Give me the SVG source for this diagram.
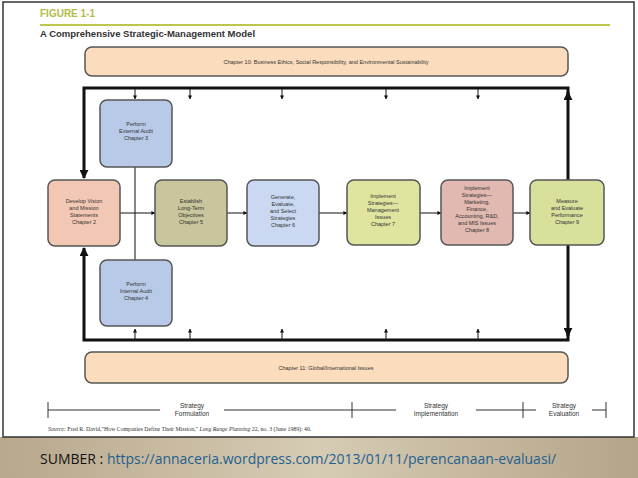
<svg xmlns="http://www.w3.org/2000/svg" width="638" height="478" viewBox="0 0 638 478">
<defs>
<style>
text{font-family:"Liberation Sans",Arial,sans-serif;fill:#333}
.b{stroke:#555;stroke-width:1.5}
.t{font-size:5.5px;text-anchor:middle}
.c{stroke:#111;fill:none}
</style>
<marker id="a" viewBox="0 0 10 10" refX="9" refY="5" markerWidth="4" markerHeight="4" orient="auto"><path d="M0,0L10,5L0,10z" fill="#111"/></marker>
<marker id="s" viewBox="0 0 10 10" refX="9" refY="5" markerWidth="3" markerHeight="3" orient="auto"><path d="M0,0L10,5L0,10z" fill="#111"/></marker>
<linearGradient id="bg" x1="0" x2="1"><stop offset="0" stop-color="#b8a88c"/><stop offset="0.5" stop-color="#d6cbb4"/><stop offset="1" stop-color="#b5a588"/></linearGradient>
</defs>
<rect width="638" height="478" fill="#fff"/>
<rect x="0" y="437" width="638" height="41" fill="url(#bg)"/>
<rect x="3" y="2" width="631" height="435" fill="#fff" stroke="#333" stroke-width="1.5"/>
<text x="40" y="17" font-size="10" font-weight="bold" style="fill:#b2bd45">FIGURE 1-1</text>
<line x1="40" y1="25" x2="610" y2="25" stroke="#bcc64e" stroke-width="2"/>
<text x="40" y="37" font-size="9.5" font-weight="bold" style="fill:#333">A Comprehensive Strategic-Management Model</text>

<g id="top-banner"><rect x="85" y="47" width="483" height="29" rx="7" fill="#fbdcbc" class="b"/><text x="326" y="64" class="t">Chapter 10: Business Ethics, Social Responsibility, and Environmental Sustainability</text></g>
<g id="bottom-banner"><rect x="85" y="352" width="483" height="31" rx="7" fill="#fbdcbc" class="b"/><text x="326" y="370" class="t">Chapter 11: Global/International Issues</text></g>

<g id="connectors">
<path class="c" stroke-width="3" d="M84,172V88H568V96"/>
<path class="c" stroke-width="3" d="M84,254V340H568V332"/>
<path d="M568,180V92" class="c" stroke-width="3" marker-end="url(#s)"/>
<path d="M568,245V336" class="c" stroke-width="3" marker-end="url(#s)"/>
<path d="M84,170V178" class="c" stroke-width="3" marker-end="url(#s)"/>
<path d="M84,256V248" class="c" stroke-width="3" marker-end="url(#s)"/>
<g stroke-width="1">
<path class="c" d="M135,89V99" marker-end="url(#a)"/><path class="c" d="M190,89V99" marker-end="url(#a)"/><path class="c" d="M282,89V99" marker-end="url(#a)"/><path class="c" d="M386,89V99" marker-end="url(#a)"/><path class="c" d="M478,89V99" marker-end="url(#a)"/>
<path class="c" d="M135,339V329" marker-end="url(#a)"/><path class="c" d="M190,339V329" marker-end="url(#a)"/><path class="c" d="M282,339V329" marker-end="url(#a)"/><path class="c" d="M386,339V329" marker-end="url(#a)"/><path class="c" d="M478,339V329" marker-end="url(#a)"/>
<path class="c" d="M135,167V260"/>
<path class="c" d="M120,213H155" marker-end="url(#a)"/>
<path class="c" d="M227,213H247" marker-end="url(#a)"/>
<path class="c" d="M319,213H347" marker-end="url(#a)"/>
<path class="c" d="M420,213H441" marker-end="url(#a)"/>
<path class="c" d="M513,213H530" marker-end="url(#a)"/>
</g>
</g>

<g id="develop"><rect x="48" y="180" width="72" height="66" rx="7" fill="#f2c8b4" class="b"/><text class="t" x="84" y="203">Develop Vision<tspan x="84" dy="7">and Mission</tspan><tspan x="84" dy="7">Statements</tspan><tspan x="84" dy="7">Chapter 2</tspan></text></g>
<g id="external"><rect x="100" y="100" width="72" height="67" rx="7" fill="#b9cae8" class="b"/><text class="t" x="136" y="126">Perform<tspan x="136" dy="7">External Audit</tspan><tspan x="136" dy="7">Chapter 3</tspan></text></g>
<g id="internal"><rect x="100" y="260" width="72" height="66" rx="7" fill="#b9cae8" class="b"/><text class="t" x="136" y="286">Perform<tspan x="136" dy="7">Internal Audit</tspan><tspan x="136" dy="7">Chapter 4</tspan></text></g>
<g id="establish"><rect x="155" y="180" width="72" height="66" rx="7" fill="#c9c59c" class="b"/><text class="t" x="191" y="203">Establish<tspan x="191" dy="7">Long-Term</tspan><tspan x="191" dy="7">Objectives</tspan><tspan x="191" dy="7">Chapter 5</tspan></text></g>
<g id="generate"><rect x="247" y="180" width="72" height="66" rx="7" fill="#cad9f1" class="b"/><text class="t" x="283" y="199">Generate,<tspan x="283" dy="7">Evaluate,</tspan><tspan x="283" dy="7">and Select</tspan><tspan x="283" dy="7">Strategies</tspan><tspan x="283" dy="7">Chapter 6</tspan></text></g>
<g id="implement-mgmt"><rect x="347" y="180" width="73" height="65" rx="7" fill="#dfe49e" class="b"/><text class="t" x="383" y="198">Implement<tspan x="383" dy="7">Strategies—</tspan><tspan x="383" dy="7">Management</tspan><tspan x="383" dy="7">Issues</tspan><tspan x="383" dy="7">Chapter 7</tspan></text></g>
<g id="implement-mkt"><rect x="441" y="180" width="72" height="65" rx="7" fill="#e1b9b1" class="b"/><text class="t" x="477" y="190">Implement<tspan x="477" dy="7">Strategies—</tspan><tspan x="477" dy="7">Marketing,</tspan><tspan x="477" dy="7">Finance,</tspan><tspan x="477" dy="7">Accounting, R&amp;D,</tspan><tspan x="477" dy="7">and MIS Issues</tspan><tspan x="477" dy="7">Chapter 8</tspan></text></g>
<g id="measure"><rect x="530" y="180" width="74" height="65" rx="7" fill="#d9e09c" class="b"/><text class="t" x="567" y="203">Measure<tspan x="567" dy="7">and Evaluate</tspan><tspan x="567" dy="7">Performance</tspan><tspan x="567" dy="7">Chapter 9</tspan></text></g>

<g id="timeline" stroke="#333" stroke-width="1">
<line x1="48" y1="410" x2="160" y2="410"/><line x1="224" y1="410" x2="352" y2="410"/>
<line x1="352" y1="410" x2="396" y2="410"/><line x1="476" y1="410" x2="523" y2="410"/>
<line x1="523" y1="410" x2="536" y2="410"/><line x1="592" y1="410" x2="606" y2="410"/>
<line x1="48" y1="402" x2="48" y2="418"/><line x1="352" y1="402" x2="352" y2="418"/><line x1="523" y1="402" x2="523" y2="418"/><line x1="606" y1="402" x2="606" y2="418"/>
</g>
<text class="t" x="192" y="408" style="font-size:6.5px">Strategy<tspan x="192" dy="8">Formulation</tspan></text>
<text class="t" x="436" y="408" style="font-size:6.5px">Strategy<tspan x="436" dy="8">Implementation</tspan></text>
<text class="t" x="564" y="408" style="font-size:6.5px">Strategy<tspan x="564" dy="8">Evaluation</tspan></text>
<text x="48" y="431" style="font-family:'Liberation Serif',serif;font-size:5.8px"><tspan font-style="italic">Source:</tspan> Fred R. David,"How Companies Define Their Mission," <tspan font-style="italic">Long Range Planning</tspan> 22, no. 3 (June 1989): 40.</text>
<text x="40" y="464" style="font-family:'Open Sans',sans-serif;font-size:14px;fill:#111">SUMBER : <tspan style="fill:#1f5f8f">https://annaceria.wordpress.com/2013/01/11/perencanaan-evaluasi/</tspan></text>
</svg>
